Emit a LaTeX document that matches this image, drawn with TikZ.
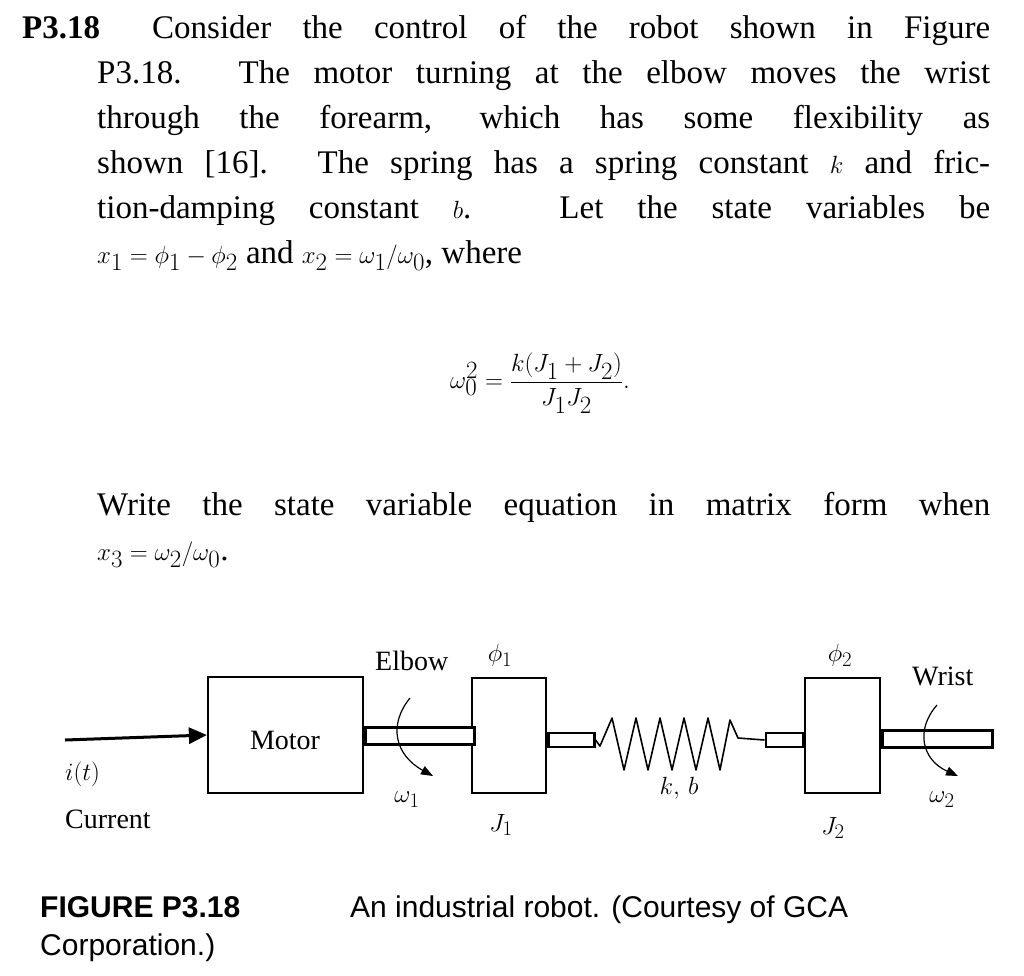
\documentclass[tikz,border=0pt]{standalone}
\usepackage{fontspec}
\setmainfont{Liberation Serif}
\newfontfamily\capfont{Liberation Sans}
\usetikzlibrary{arrows.meta}
\begin{document}
\begin{tikzpicture}[x=1pt,y=-1pt,
  txt/.style={anchor=base west,inner sep=0pt,font=\fontsize{33}{40}\selectfont},
  lab/.style={inner sep=0pt,font=\fontsize{28}{32}\selectfont},
  captxt/.style={anchor=base west,inner sep=0pt,font=\capfont\fontsize{30}{36}\selectfont},
  blk/.style={draw,line width=2.2pt},
  shaft/.style={draw,line width=2.4pt,fill=white}]
\useasboundingbox (0,0) rectangle (1024,975);
% text
\node[txt] (p) at (22,38) {\textbf{P3.18}};
\node[txt] (l1) at (152,38) {\makebox[838pt][s]{Consider the control of the robot shown in Figure}};
\node[txt] (l2) at (97,83) {\makebox[893pt][s]{P3.18. The motor turning at the elbow moves the wrist}};
\node[txt] (l3) at (97,128) {\makebox[893pt][s]{through the forearm, which has some flexibility as}};
\node[txt] (l4) at (97,173) {\makebox[893pt][s]{shown [16]. The spring has a spring constant $k$ and fric-}};
\node[txt] (l5) at (97,218) {\makebox[893pt][s]{tion-damping constant $b$. Let the state variables be}};
\node[txt] (l6) at (97,263) {$x_1=\phi_1-\phi_2$ and $x_2=\omega_1/\omega_0$, where};
\node[inner sep=0pt,font=\fontsize{33}{40}\selectfont] (eq) at (540,383) {$\displaystyle\omega_0^2=\frac{k(J_1+J_2)}{J_1J_2}.$};
\node[txt] (l7) at (97,515) {\makebox[893pt][s]{Write the state variable equation in matrix form when}};
\node[txt] (l8) at (97,560) {$x_3=\omega_2/\omega_0$.};
% figure
\node[blk,minimum width=155pt,minimum height=116pt,inner sep=0pt] (motor) at (285.5,735) {};
\node[lab] (mt) at (285,740) {Motor};
\node[blk,minimum width=74pt,minimum height=115pt] (j1) at (509,735.5) {};
\node[blk,minimum width=75pt,minimum height=115pt] (j2) at (842.5,735.5) {};
\node[shaft,minimum width=109pt,minimum height=17pt,inner sep=0pt,anchor=west] (s1) at (motor.east|-0,736) {};
\node[shaft,minimum width=46pt,minimum height=14pt,inner sep=0pt,anchor=west] (s2) at (j1.east|-0,740) {};
\node[shaft,minimum width=37pt,minimum height=14pt,inner sep=0pt,anchor=east] (s3) at (j2.west|-0,740) {};
\node[shaft,minimum width=110pt,minimum height=17pt,inner sep=0pt,anchor=west] (s4) at (j2.east|-0,739) {};
% spring
\draw[line width=1.6pt,line join=round] (s2.east) -- (600,746) -- (612,718) -- (624,770) -- (636,718) -- (648,770) -- (660,718) -- (672,770) -- (684,718) -- (696,770) -- (708,718) -- (720,770) -- (730,720) -- (738,738) -- (s3.west);
% input arrow
\coordinate (in) at (65,740);
\draw[line width=3pt,-{Triangle[length=18pt,width=16pt]}] (in) -- (motor.west);
% rotation arrows
\coordinate (r1a) at (410,698); \coordinate (r1b) at (433,776);
\draw[line width=1.2pt,-{Triangle[length=12pt,width=9pt]}] (r1a) .. controls (388,725) and (395,755) .. (r1b);
\coordinate (r2a) at (937,705); \coordinate (r2b) at (958,776);
\draw[line width=1.2pt,-{Triangle[length=12pt,width=9pt]}] (r2a) .. controls (915,730) and (922,760) .. (r2b);
% labels
\node[lab,anchor=base west] (elbow) at (375,670) {Elbow};
\node[lab] (phi1) at (500,655) {$\phi_1$};
\node[lab] (phi2) at (840,655) {$\phi_2$};
\node[lab,anchor=base west] (wrist) at (912,685) {Wrist};
\node[lab,anchor=base west] (it) at (65,780) {$i(t)$};
\node[lab,anchor=base west] (cur) at (65,828) {Current};
\node[lab] (w1) at (407,800) {$\omega_1$};
\node[lab] (J1) at (501,825) {$J_1$};
\node[lab] (kb) at (679,788) {$k,\,b$};
\node[lab] (J2) at (833,828) {$J_2$};
\node[lab] (w2) at (942,800) {$\omega_2$};
% caption
\node[captxt] (c1) at (40,917) {\textbf{FIGURE P3.18}};
\node[captxt] (c2) at (350,917) {An industrial robot. (Courtesy of GCA};
\node[captxt] (c3) at (40,955) {Corporation.)};
\end{tikzpicture}
\end{document}
